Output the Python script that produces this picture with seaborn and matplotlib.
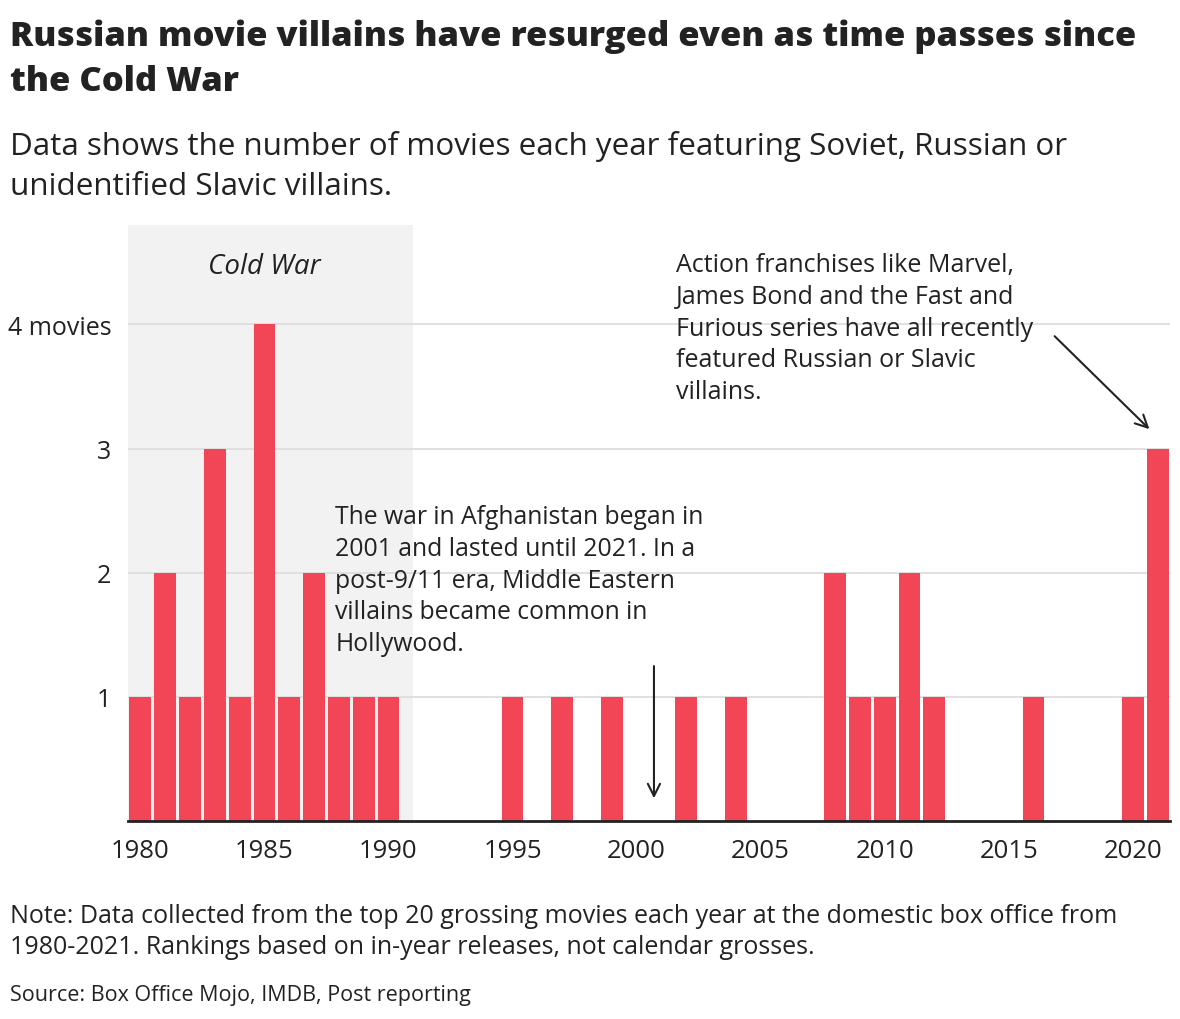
import matplotlib
matplotlib.use("Agg")
import matplotlib.pyplot as plt
import seaborn as sns
import pandas as pd

years = list(range(1980, 2022))
movies = [1, 2, 1, 3, 1, 4, 1, 2, 1, 1, 1,   # 1980-1990
          0, 0, 0, 0, 1, 0, 1, 0, 1,          # 1991-1999
          0, 0, 1, 0, 1, 0, 0, 0, 2, 1,       # 2000-2009
          1, 2, 1, 0, 0, 0, 1, 0, 0, 0,       # 2010-2019
          1, 3]                               # 2020-2021
xticks = [1980, 1985, 1990, 1995, 2000, 2005, 2010, 2015, 2020]
yticks = [1, 2, 3, 4]
ytick_labels = ["1", "2", "3", "4 movies"]

title = "Russian movie villains have resurged even as time passes since\nthe Cold War"
subtitle = "Data shows the number of movies each year featuring Soviet, Russian or\nunidentified Slavic villains."
note = "Note: Data collected from the top 20 grossing movies each year at the domestic box office from\n1980-2021. Rankings based on in-year releases, not calendar grosses."
source = "Source: Box Office Mojo, IMDB, Post reporting"
afghan_text = "The war in Afghanistan began in\n2001 and lasted until 2021. In a\npost-9/11 era, Middle Eastern\nvillains became common in\nHollywood."
marvel_text = "Action franchises like Marvel,\nJames Bond and the Fast and\nFurious series have all recently\nfeatured Russian or Slavic\nvillains."

sns.set_theme(style="white")
plt.rcParams['font.family'] = ['Open Sans', 'DejaVu Sans']
TXT = "#222222"
RED = "#f24656"

df = pd.DataFrame({"year": years, "movies": movies})

fig = plt.figure(figsize=(11.8, 10.2), dpi=100)
ax = fig.add_axes([128/1180, 1 - 822/1020, (1170-128)/1180, (822-226)/1020])

ax.axvspan(1979.5, 1991.0, color="#f2f2f2", zorder=0, lw=0)
for y in yticks:
    ax.axhline(y, color="#dddddd", lw=1.3, zorder=1)

sns.barplot(data=df, x="year", y="movies", native_scale=True, width=0.88,
            color=RED, saturation=1, ax=ax, zorder=2, edgecolor="none")

ax.set_xlim(1979.5, 2021.5)
ax.set_ylim(0, 4.8)
ax.set_xticks(xticks)
ax.set_xticklabels([str(x) for x in xticks], fontsize=18.5, color=TXT)
ax.set_yticks(yticks)
ax.set_yticklabels(ytick_labels, fontsize=18, color=TXT)
ax.tick_params(axis="x", length=0, pad=12)
ax.tick_params(axis="y", length=0, pad=12)
ax.set_xlabel("")
ax.set_ylabel("")
for s in ["top", "right", "left"]:
    ax.spines[s].set_visible(False)
ax.spines["bottom"].set_color("#222222")
ax.spines["bottom"].set_linewidth(2)
ax.spines["bottom"].set_zorder(5)

ax.text(1985.0, 4.47, "Cold War", fontsize=20, style="italic", color=TXT,
        ha="center", va="center")
ax.text(1987.86, 2.55, afghan_text, fontsize=17.8, color=TXT, ha="left", va="top",
        linespacing=1.35)
ax.annotate("", xy=(2000.7, 0.16), xytext=(2000.7, 1.27),
            arrowprops=dict(arrowstyle="->", color=TXT, lw=1.5, mutation_scale=22))
ax.text(2001.57, 4.58, marvel_text, fontsize=18, color=TXT, ha="left", va="top",
        linespacing=1.35)
ax.annotate("", xy=(2020.75, 3.14), xytext=(2016.77, 3.92),
            arrowprops=dict(arrowstyle="->", color=TXT, lw=1.5, mutation_scale=22))

fig.text(10/1180, 1 - 20/1020, title, fontsize=24.8, fontweight=800, color=TXT,
         ha="left", va="top", linespacing=1.4)
fig.text(10/1180, 1 - 131/1020, subtitle, fontsize=22.6, color=TXT,
         ha="left", va="top", linespacing=1.42)
fig.text(10/1180, 1 - 904/1020, note, fontsize=18, color=TXT,
         ha="left", va="top", linespacing=1.33)
fig.text(10/1180, 1 - 985/1020, source, fontsize=15.5, color=TXT,
         ha="left", va="top")

fig.savefig("out.png", dpi=100)
